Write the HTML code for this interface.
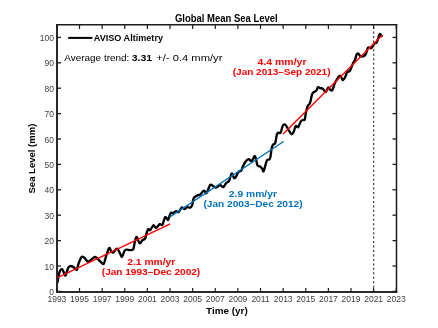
<!DOCTYPE html>
<html><head><meta charset="utf-8"><style>
html,body{margin:0;padding:0;background:#fff;}
svg{display:block;will-change:transform;}
text{font-family:"Liberation Sans",sans-serif;}
.tk text{font-family:"Liberation Sans",sans-serif;font-size:8.5px;fill:#404040;}
.b{font-weight:bold;}
</style></head><body>
<svg width="438" height="328" viewBox="0 0 438 328">
<rect width="438" height="328" fill="#fff"/>
<line x1="373.7" y1="27" x2="373.7" y2="291" stroke="#222" stroke-width="1.1" stroke-dasharray="2,2.46"/>
<path d="M57.5,282.2 C57.8,280.5 58.7,274.3 59.5,272.1 C60.3,269.9 61.3,268.9 62.1,269.1 C62.9,269.3 63.5,272.1 64.1,273.1 C64.7,274.2 64.9,276.2 65.6,275.4 C66.3,274.6 67.3,269.7 68.1,268.1 C68.8,266.6 69.3,266.3 70.1,266.1 C70.9,265.9 72.2,266.4 73.1,266.9 C74.0,267.4 75.0,268.7 75.7,269.1 C76.4,269.6 76.5,270.6 77.0,269.6 C77.5,268.6 77.9,265.2 78.7,263.1 C79.5,261.0 80.7,257.7 81.7,256.8 C82.7,256.0 83.7,257.2 84.7,258.0 C85.7,258.8 86.6,261.3 87.7,261.6 C88.8,261.9 90.0,260.4 91.3,259.6 C92.6,258.8 93.8,256.7 95.3,257.0 C96.8,257.3 98.6,260.0 100.0,261.2 C101.4,262.4 102.6,264.8 103.6,264.0 C104.6,263.2 105.2,258.8 106.1,256.2 C107.0,253.5 108.3,248.9 109.1,248.1 C109.9,247.2 110.4,250.3 111.1,251.1 C111.8,251.8 112.3,252.9 113.1,252.6 C113.9,252.3 115.3,249.7 116.1,249.1 C116.9,248.5 117.0,248.3 117.7,249.1 C118.4,249.9 119.5,252.4 120.2,253.7 C120.9,255.0 121.2,257.2 122.0,256.7 C122.8,256.2 123.9,251.8 124.7,250.6 C125.5,249.4 125.8,249.7 126.7,249.6 C127.6,249.5 129.1,250.2 130.2,250.1 C131.3,250.0 132.5,250.4 133.3,249.1 C134.1,247.8 134.2,244.1 134.8,242.1 C135.4,240.1 135.9,236.8 136.7,237.0 C137.5,237.2 138.6,242.8 139.6,243.3 C140.6,243.8 141.6,241.0 142.5,240.2 C143.4,239.4 144.3,239.9 145.0,238.7 C145.7,237.5 146.1,234.7 146.6,233.1 C147.1,231.5 147.5,229.6 148.1,229.1 C148.7,228.6 149.4,230.5 150.1,230.2 C150.8,229.9 151.5,227.9 152.1,227.1 C152.7,226.2 153.1,225.1 153.6,225.1 C154.1,225.1 154.6,226.7 155.1,227.1 C155.6,227.5 155.8,228.1 156.6,227.6 C157.4,227.1 158.8,224.5 159.7,224.1 C160.6,223.7 161.5,225.6 162.2,225.1 C162.9,224.6 163.2,222.4 163.7,221.1 C164.2,219.8 164.6,217.3 165.2,217.0 C165.8,216.7 166.7,218.6 167.2,219.0 C167.7,219.4 167.6,220.6 168.2,219.6 C168.8,218.6 169.8,214.2 170.6,213.1 C171.4,212.0 172.2,213.4 173.1,213.1 C174.0,212.8 175.2,211.3 176.1,211.1 C177.0,210.9 177.7,212.7 178.6,212.1 C179.5,211.5 180.7,208.1 181.7,207.6 C182.7,207.1 183.8,209.2 184.7,209.1 C185.6,209.0 186.3,207.3 187.2,207.1 C188.1,206.8 189.4,207.9 190.2,207.6 C191.0,207.3 191.7,206.4 192.2,205.1 C192.7,203.8 192.8,200.9 193.2,199.6 C193.6,198.2 193.8,197.8 194.7,197.0 C195.5,196.2 197.4,195.4 198.3,195.0 C199.2,194.6 199.1,195.4 200.0,194.7 C200.9,194.0 202.9,190.9 204.0,190.7 C205.1,190.4 205.5,194.1 206.5,193.2 C207.5,192.3 209.0,186.3 210.1,185.1 C211.2,183.9 212.1,185.7 213.1,186.1 C214.1,186.5 214.9,187.8 216.1,187.6 C217.3,187.4 218.9,185.2 220.1,185.1 C221.3,185.0 222.2,187.4 223.2,187.1 C224.2,186.8 225.2,184.2 226.2,183.1 C227.2,182.0 228.3,182.2 229.2,180.6 C230.1,179.0 230.9,173.9 231.7,173.5 C232.5,173.1 233.4,177.7 234.2,178.1 C235.0,178.5 235.6,177.1 236.3,176.1 C237.0,175.1 237.5,172.9 238.3,172.0 C239.1,171.1 240.5,171.5 241.3,170.5 C242.1,169.5 242.3,167.7 243.0,166.2 C243.7,164.7 244.6,162.9 245.5,161.7 C246.4,160.5 247.6,159.2 248.6,159.1 C249.6,159.0 250.6,161.6 251.6,161.1 C252.6,160.6 253.8,156.3 254.6,156.1 C255.3,155.8 255.6,158.0 256.1,159.6 C256.6,161.2 256.9,164.6 257.6,165.7 C258.3,166.8 259.3,165.9 260.1,166.4 C260.9,166.9 261.6,167.9 262.2,168.7 C262.8,169.5 262.9,172.1 263.5,171.3 C264.1,170.6 265.1,166.1 265.7,164.2 C266.3,162.3 266.5,160.9 267.2,160.1 C267.9,159.2 269.1,159.9 269.7,159.1 C270.3,158.3 270.4,156.9 270.7,155.1 C271.0,153.3 271.3,149.9 271.7,148.1 C272.1,146.3 272.6,145.3 273.2,144.5 C273.8,143.7 274.6,144.7 275.2,143.0 C275.8,141.3 276.4,135.9 277.0,134.2 C277.6,132.5 277.9,132.9 278.5,132.7 C279.1,132.4 279.9,133.8 280.6,132.7 C281.3,131.6 282.0,127.5 282.6,126.1 C283.2,124.7 283.7,124.5 284.3,124.4 C284.9,124.3 285.4,124.6 286.1,125.6 C286.8,126.5 287.7,128.7 288.6,130.1 C289.5,131.5 290.8,133.9 291.6,134.2 C292.5,134.5 293.0,133.0 293.7,131.7 C294.4,130.3 294.9,126.9 295.7,126.1 C296.4,125.3 297.4,127.8 298.2,127.1 C299.0,126.3 299.9,122.8 300.7,121.6 C301.4,120.4 302.0,120.4 302.7,120.1 C303.4,119.8 304.2,120.6 304.7,119.6 C305.2,118.6 305.2,116.2 305.7,114.0 C306.2,111.8 306.9,108.0 307.5,106.3 C308.1,104.6 309.0,104.8 309.5,104.0 C310.0,103.2 310.1,102.5 310.5,101.2 C310.9,99.9 311.2,97.5 311.6,96.1 C312.0,94.7 312.5,93.3 313.1,92.6 C313.7,91.8 314.5,92.0 315.1,91.6 C315.7,91.2 316.1,90.8 316.6,90.1 C317.1,89.3 317.5,87.4 318.1,87.1 C318.7,86.8 319.4,87.8 320.1,88.1 C320.9,88.3 322.0,88.3 322.6,88.6 C323.2,88.8 323.1,89.0 323.6,89.6 C324.1,90.2 324.9,92.4 325.7,92.1 C326.5,91.8 327.5,88.1 328.2,87.6 C328.9,87.1 329.1,88.6 329.7,89.1 C330.3,89.6 331.1,90.8 331.7,90.6 C332.3,90.4 332.7,89.3 333.2,88.1 C333.7,86.9 334.2,84.7 334.7,83.5 C335.2,82.3 335.4,82.0 336.0,81.0 C336.6,80.0 337.3,78.5 338.0,77.6 C338.7,76.7 339.4,75.7 340.0,75.7 C340.6,75.7 341.0,77.0 341.5,77.7 C342.0,78.5 342.4,80.3 343.0,80.2 C343.6,80.1 344.4,78.5 345.1,77.2 C345.8,75.9 346.4,73.2 347.1,72.2 C347.9,71.2 348.9,71.8 349.6,71.1 C350.3,70.4 350.5,69.4 351.1,68.1 C351.7,66.8 352.4,64.5 353.1,63.1 C353.8,61.7 354.5,61.0 355.1,59.6 C355.7,58.2 356.1,55.5 356.6,54.5 C357.1,53.5 357.6,53.2 358.2,53.5 C358.8,53.8 359.5,55.5 360.2,56.0 C360.9,56.5 361.4,56.6 362.2,56.5 C362.9,56.4 364.0,56.1 364.7,55.5 C365.4,54.9 365.6,54.3 366.2,53.0 C366.8,51.7 367.3,48.5 368.1,47.7 C368.9,46.9 370.3,48.5 371.1,48.2 C371.9,47.9 372.5,46.6 373.1,45.7 C373.7,44.9 374.0,43.6 374.6,43.1 C375.2,42.6 376.0,43.4 376.6,42.6 C377.2,41.8 377.7,39.5 378.2,38.1 C378.7,36.7 379.3,34.7 379.7,34.1 C380.1,33.5 380.4,34.3 380.7,34.6 C381.0,34.9 381.5,35.9 381.7,36.1" fill="none" stroke="#000" stroke-width="2.35" stroke-linejoin="round" stroke-linecap="round"/>
<line x1="56.5" y1="278.1" x2="170.2" y2="223.8" stroke="#ff0000" stroke-width="1.4"/>
<line x1="169.6" y1="217.2" x2="283.6" y2="141.5" stroke="#0072bd" stroke-width="1.4"/>
<line x1="283.1" y1="134.0" x2="382.4" y2="34.9" stroke="#ff0000" stroke-width="1.4"/>
<g stroke="#1c1c1c" stroke-width="1.6" fill="none">
<line x1="57" y1="23.9" x2="57" y2="293" stroke-width="2" stroke="#2a2a2a"/><line x1="56" y1="292" x2="397.2" y2="292" stroke-width="2" stroke="#2a2a2a"/><line x1="56" y1="24.7" x2="397.2" y2="24.7" stroke-width="1.5"/><line x1="396.5" y1="23.9" x2="396.5" y2="293" stroke-width="1.5"/>
<line x1="56.90" y1="292" x2="56.90" y2="288" stroke-width="1.2"/><line x1="56.90" y1="24" x2="56.90" y2="29" stroke-width="1.2"/><line x1="79.52" y1="292" x2="79.52" y2="288" stroke-width="1.2"/><line x1="79.52" y1="24" x2="79.52" y2="29" stroke-width="1.2"/><line x1="102.15" y1="292" x2="102.15" y2="288" stroke-width="1.2"/><line x1="102.15" y1="24" x2="102.15" y2="29" stroke-width="1.2"/><line x1="124.77" y1="292" x2="124.77" y2="288" stroke-width="1.2"/><line x1="124.77" y1="24" x2="124.77" y2="29" stroke-width="1.2"/><line x1="147.40" y1="292" x2="147.40" y2="288" stroke-width="1.2"/><line x1="147.40" y1="24" x2="147.40" y2="29" stroke-width="1.2"/><line x1="170.02" y1="292" x2="170.02" y2="288" stroke-width="1.2"/><line x1="170.02" y1="24" x2="170.02" y2="29" stroke-width="1.2"/><line x1="192.64" y1="292" x2="192.64" y2="288" stroke-width="1.2"/><line x1="192.64" y1="24" x2="192.64" y2="29" stroke-width="1.2"/><line x1="215.27" y1="292" x2="215.27" y2="288" stroke-width="1.2"/><line x1="215.27" y1="24" x2="215.27" y2="29" stroke-width="1.2"/><line x1="237.89" y1="292" x2="237.89" y2="288" stroke-width="1.2"/><line x1="237.89" y1="24" x2="237.89" y2="29" stroke-width="1.2"/><line x1="260.52" y1="292" x2="260.52" y2="288" stroke-width="1.2"/><line x1="260.52" y1="24" x2="260.52" y2="29" stroke-width="1.2"/><line x1="283.14" y1="292" x2="283.14" y2="288" stroke-width="1.2"/><line x1="283.14" y1="24" x2="283.14" y2="29" stroke-width="1.2"/><line x1="305.76" y1="292" x2="305.76" y2="288" stroke-width="1.2"/><line x1="305.76" y1="24" x2="305.76" y2="29" stroke-width="1.2"/><line x1="328.39" y1="292" x2="328.39" y2="288" stroke-width="1.2"/><line x1="328.39" y1="24" x2="328.39" y2="29" stroke-width="1.2"/><line x1="351.01" y1="292" x2="351.01" y2="288" stroke-width="1.2"/><line x1="351.01" y1="24" x2="351.01" y2="29" stroke-width="1.2"/><line x1="373.64" y1="292" x2="373.64" y2="288" stroke-width="1.2"/><line x1="373.64" y1="24" x2="373.64" y2="29" stroke-width="1.2"/><line x1="396.26" y1="292" x2="396.26" y2="288" stroke-width="1.2"/><line x1="396.26" y1="24" x2="396.26" y2="29" stroke-width="1.2"/><line x1="57" y1="291.40" x2="61" y2="291.40" stroke-width="1.3"/><line x1="396.5" y1="291.40" x2="392.5" y2="291.40" stroke-width="1.3"/><line x1="57" y1="266.00" x2="61" y2="266.00" stroke-width="1.3"/><line x1="396.5" y1="266.00" x2="392.5" y2="266.00" stroke-width="1.3"/><line x1="57" y1="240.60" x2="61" y2="240.60" stroke-width="1.3"/><line x1="396.5" y1="240.60" x2="392.5" y2="240.60" stroke-width="1.3"/><line x1="57" y1="215.20" x2="61" y2="215.20" stroke-width="1.3"/><line x1="396.5" y1="215.20" x2="392.5" y2="215.20" stroke-width="1.3"/><line x1="57" y1="189.80" x2="61" y2="189.80" stroke-width="1.3"/><line x1="396.5" y1="189.80" x2="392.5" y2="189.80" stroke-width="1.3"/><line x1="57" y1="164.40" x2="61" y2="164.40" stroke-width="1.3"/><line x1="396.5" y1="164.40" x2="392.5" y2="164.40" stroke-width="1.3"/><line x1="57" y1="139.00" x2="61" y2="139.00" stroke-width="1.3"/><line x1="396.5" y1="139.00" x2="392.5" y2="139.00" stroke-width="1.3"/><line x1="57" y1="113.60" x2="61" y2="113.60" stroke-width="1.3"/><line x1="396.5" y1="113.60" x2="392.5" y2="113.60" stroke-width="1.3"/><line x1="57" y1="88.20" x2="61" y2="88.20" stroke-width="1.3"/><line x1="396.5" y1="88.20" x2="392.5" y2="88.20" stroke-width="1.3"/><line x1="57" y1="62.80" x2="61" y2="62.80" stroke-width="1.3"/><line x1="396.5" y1="62.80" x2="392.5" y2="62.80" stroke-width="1.3"/><line x1="57" y1="37.40" x2="61" y2="37.40" stroke-width="1.3"/><line x1="396.5" y1="37.40" x2="392.5" y2="37.40" stroke-width="1.3"/>
</g>
<g class="tk"><text x="53.9" y="295.00" text-anchor="end">0</text><text x="53.9" y="269.60" text-anchor="end">10</text><text x="53.9" y="244.20" text-anchor="end">20</text><text x="53.9" y="218.80" text-anchor="end">30</text><text x="53.9" y="193.40" text-anchor="end">40</text><text x="53.9" y="168.00" text-anchor="end">50</text><text x="53.9" y="142.60" text-anchor="end">60</text><text x="53.9" y="117.20" text-anchor="end">70</text><text x="53.9" y="91.80" text-anchor="end">80</text><text x="53.9" y="66.40" text-anchor="end">90</text><text x="53.9" y="41.00" text-anchor="end">100</text><text x="56.90" y="302.4" text-anchor="middle">1993</text><text x="79.52" y="302.4" text-anchor="middle">1995</text><text x="102.15" y="302.4" text-anchor="middle">1997</text><text x="124.77" y="302.4" text-anchor="middle">1999</text><text x="147.40" y="302.4" text-anchor="middle">2001</text><text x="170.02" y="302.4" text-anchor="middle">2003</text><text x="192.64" y="302.4" text-anchor="middle">2005</text><text x="215.27" y="302.4" text-anchor="middle">2007</text><text x="237.89" y="302.4" text-anchor="middle">2009</text><text x="260.52" y="302.4" text-anchor="middle">2011</text><text x="283.14" y="302.4" text-anchor="middle">2013</text><text x="305.76" y="302.4" text-anchor="middle">2015</text><text x="328.39" y="302.4" text-anchor="middle">2017</text><text x="351.01" y="302.4" text-anchor="middle">2019</text><text x="373.64" y="302.4" text-anchor="middle">2021</text><text x="396.26" y="302.4" text-anchor="middle">2023</text></g>
<text class="b" x="174.9" y="21.6" font-size="10" textLength="102.8" lengthAdjust="spacingAndGlyphs">Global Mean Sea Level</text>
<line x1="68.2" y1="37.9" x2="92.4" y2="37.9" stroke="#000" stroke-width="2"/>
<text class="b" x="93.8" y="40.8" font-size="9.4" textLength="69.2" lengthAdjust="spacingAndGlyphs">AVISO Altimetry</text>
<g font-size="9.2"><text x="64.3" y="61" textLength="65" lengthAdjust="spacingAndGlyphs">Average trend:</text>
<text class="b" x="131.8" y="61" textLength="20.4" lengthAdjust="spacingAndGlyphs">3.31</text>
<text x="156.2" y="61" textLength="66.2" lengthAdjust="spacingAndGlyphs">+/- 0.4 mm/yr</text></g>
<g class="b" font-size="9.3" fill="#ff0000">
<text x="257.6" y="64.9" textLength="48.9" lengthAdjust="spacingAndGlyphs">4.4 mm/yr</text>
<text x="232.8" y="75.3" textLength="97.7" lengthAdjust="spacingAndGlyphs">(Jan 2013–Sep 2021)</text>
<text x="127.3" y="264.8" textLength="48" lengthAdjust="spacingAndGlyphs">2.1 mm/yr</text>
<text x="101.8" y="275.4" textLength="98.4" lengthAdjust="spacingAndGlyphs">(Jan 1993–Dec 2002)</text>
</g>
<g class="b" font-size="9.3" fill="#0072bd">
<text x="228.8" y="197" textLength="48.1" lengthAdjust="spacingAndGlyphs">2.9 mm/yr</text>
<text x="203.4" y="207.4" textLength="99.2" lengthAdjust="spacingAndGlyphs">(Jan 2003–Dec 2012)</text>
</g>
<text class="b" x="206.1" y="313.5" font-size="9.8" textLength="41.6" lengthAdjust="spacingAndGlyphs">Time (yr)</text>
<text class="b" transform="translate(35.2,193.5) rotate(-90)" x="0" y="0" font-size="9.8" textLength="69.8" lengthAdjust="spacingAndGlyphs">Sea Level (mm)</text>
</svg>
</body></html>
